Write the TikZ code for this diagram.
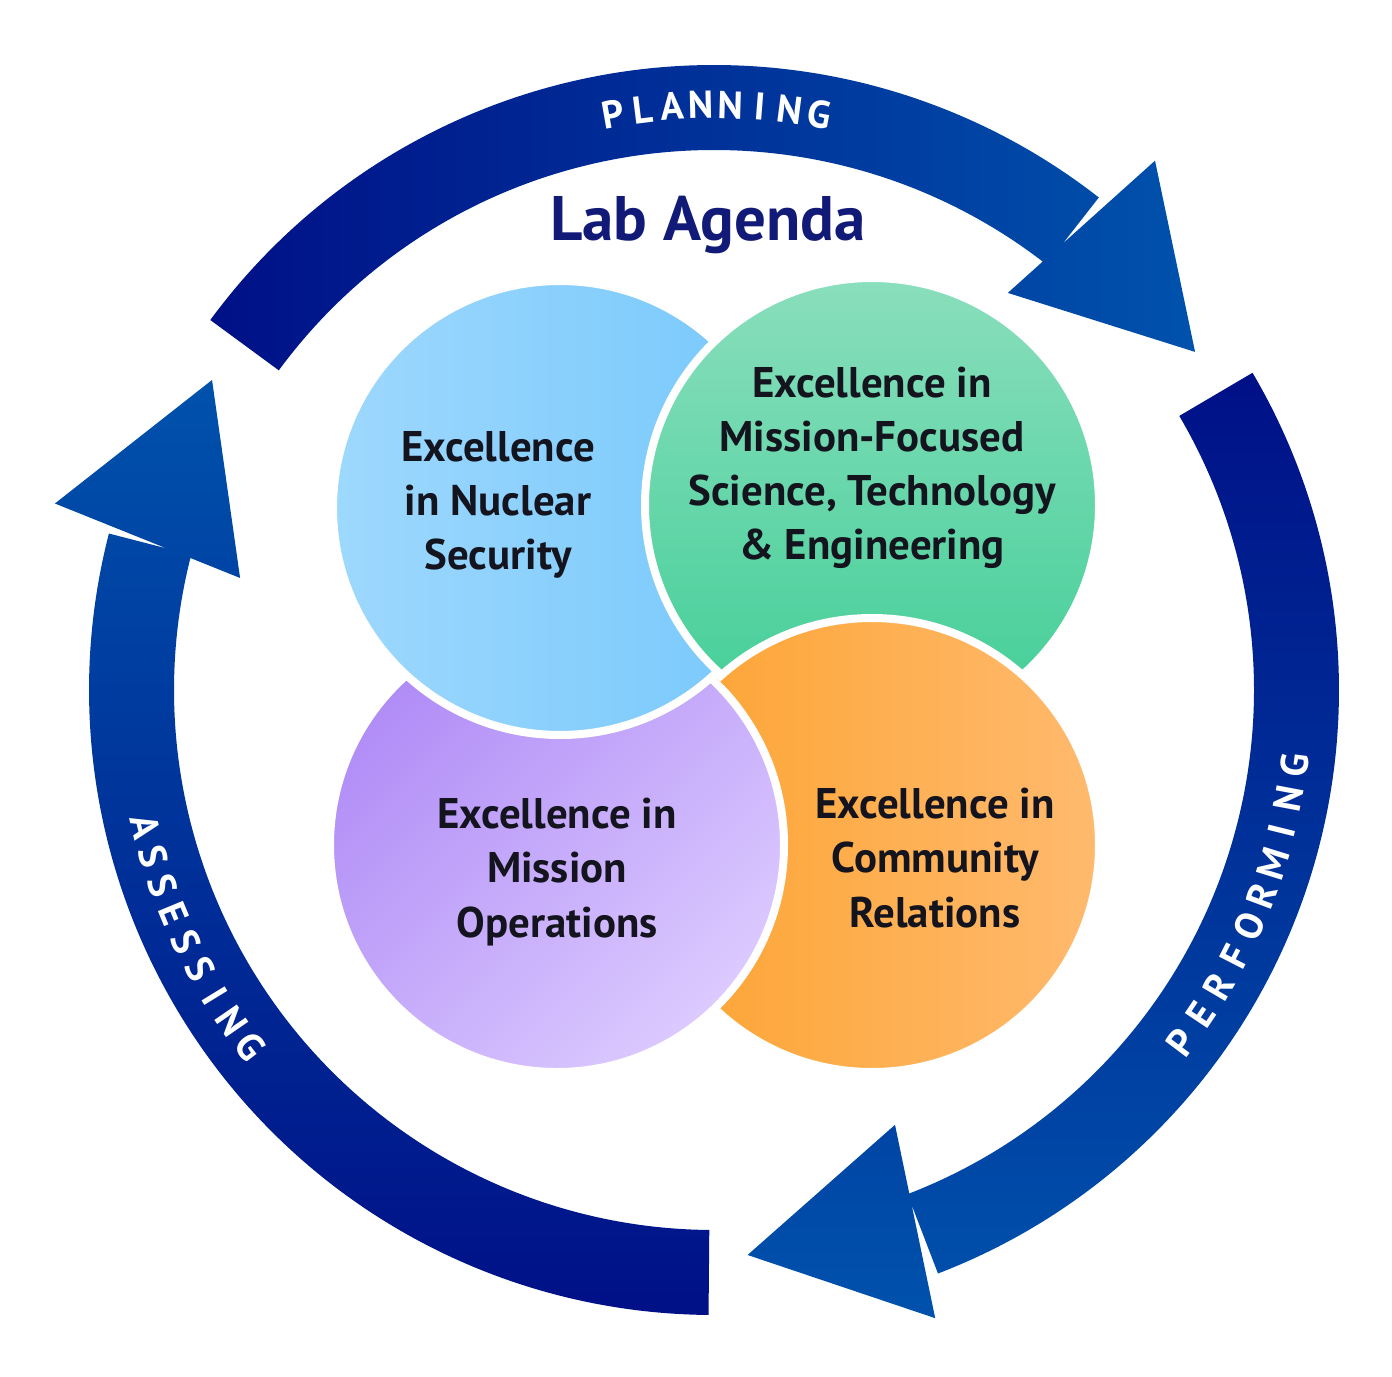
\documentclass[tikz,border=0pt]{standalone}
\usepackage{fontspec}
\setmainfont{PT Sans}
\begin{document}
\begin{tikzpicture}
\definecolor{navy}{RGB}{0,16,135}
\definecolor{mblue}{RGB}{0,82,172}
\definecolor{titlec}{RGB}{18,26,120}
\definecolor{txt}{RGB}{20,20,30}
\tikzset{
  ctext/.style={align=center,text=txt,font=\fontsize{12.2}{15.4}\selectfont\bfseries},
  ringl/.style={text=white,font=\fontsize{11}{13}\selectfont\bfseries,inner sep=0pt},
  bord/.style={draw=white,line width=0.08cm},
}
\useasboundingbox (0,0) rectangle (13.92,13.76);
\begin{scope}[shift={(7.14,6.86)}]
% arrows
\path[left color=navy,right color=mblue]
  (143.7:6.25) arc[start angle=143.7,end angle=52,radius=6.25] -- (52:5.4) arc[start angle=52,end angle=143.7,radius=5.4] -- cycle
  (53.5:4.94) -- (50.2:6.89) -- (35.1:5.88) -- cycle;
\path[top color=navy,bottom color=mblue]
  (30.5:6.25) arc[start angle=30.5,end angle=-69,radius=6.25] -- (-69:5.4) arc[start angle=-69,end angle=30.5,radius=5.4] -- cycle
  (-67.4:4.71) -- (-70.6:6.66) -- (-86.6:5.66) -- cycle;
\path[bottom color=navy,top color=mblue]
  (-90.5:6.25) arc[start angle=-90.5,end angle=-194.5,radius=6.25] -- (165.5:5.4) arc[start angle=165.5,end angle=269.5,radius=5.4] -- cycle
  (166.7:4.87) -- (164.2:6.85) -- (148.3:5.9) -- cycle;
% ring labels
\foreach \c [count=\i] in {P,L,A,N,N,I,N,G}
  {\pgfmathsetmacro\a{89.8-(\i-4.5)*2.9}
   \node[ringl,rotate=\a-90] at (\a:5.85) {\c};}
\foreach \c [count=\i] in {P,E,R,F,O,R,M,I,N,G}
  {\pgfmathsetmacro\a{-22.2+(\i-5.5)*3.3}
   \node[ringl,rotate=\a+90] at (\a:5.85) {\c};}
\foreach \c [count=\i] in {A,S,S,E,S,S,I,N,G}
  {\pgfmathsetmacro\a{205.5+(\i-5)*3.0}
   \node[ringl,rotate=\a+90] at (\a:5.85) {\c};}
% title
\node[text=titlec,font=\fontsize{17.9}{20}\selectfont\bfseries] (title) at (-0.06,4.65) {Lab Agenda};
% circles
\path[bord,left color={rgb,255:red,253;green,163;blue,48},right color={rgb,255:red,255;green,186;blue,110}] (1.58,-1.55) circle (2.27);
\path[bord,top color={rgb,255:red,176;green,140;blue,246},bottom color={rgb,255:red,220;green,202;blue,255},shading angle=45] (-1.57,-1.55) circle (2.27);
\path[bord,left color={rgb,255:red,158;green,216;blue,253},right color={rgb,255:red,118;green,200;blue,252}] (-1.54,1.82) circle (2.27);
\path[bord,top color={rgb,255:red,138;green,222;blue,188},bottom color={rgb,255:red,64;green,206;blue,150}] (1.58,1.85) circle (2.27);
\begin{scope}
\clip (1.58,1.85) circle (2.33);
\clip (0.03,-5) rectangle (5,5);
\path[bord,left color={rgb,255:red,253;green,163;blue,48},right color={rgb,255:red,255;green,186;blue,110}] (1.58,-1.55) circle (2.27);
\end{scope}
\node[ctext] (ns) at (-2.16,1.85) {Excellence\\in Nuclear\\Security};
\node[ctext] (st) at (1.58,2.22) {Excellence in\\Mission-Focused\\Science, Technology\\\& Engineering};
\node[ctext] (cr) at (2.21,-1.68) {Excellence in\\Community\\Relations};
\node[ctext] (mo) at (-1.57,-1.82) {Excellence in\\Mission\\Operations};
\end{scope}
\end{tikzpicture}
\end{document}
